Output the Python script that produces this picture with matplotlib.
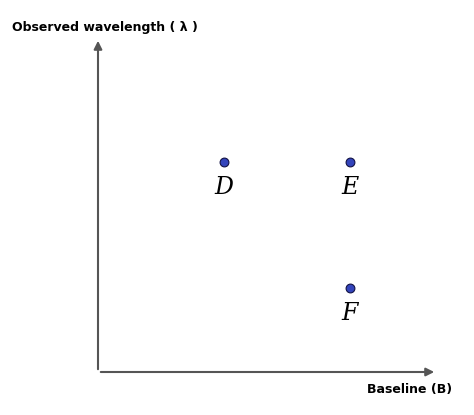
import matplotlib
matplotlib.use("Agg")
import matplotlib.pyplot as plt

labels = ["D", "E", "F"]
baseline = [1.0, 2.0, 2.0]
wavelength = [2.5, 2.5, 1.0]

W, H = 474, 415
ox, oy, ux, uy = 98, 372, 126, 84
fig = plt.figure(figsize=(W/100, H/100), dpi=100)
ax = fig.add_axes([0, 0, 1, 1])
ax.set_xlim(-ox/ux, (W-ox)/ux)
ax.set_ylim(-(H-oy)/uy, oy/uy)
ax.axis("off")

xend = (437-ox)/ux
yend = (oy-38)/uy
ax.annotate("", xy=(xend, 0), xytext=(0, 0),
            arrowprops=dict(arrowstyle="-|>", color="#555555", lw=1.5, mutation_scale=12))
ax.annotate("", xy=(0, yend), xytext=(0, 0),
            arrowprops=dict(arrowstyle="-|>", color="#555555", lw=1.5, mutation_scale=12))

ax.scatter(baseline, wavelength, s=40, color="#3344bb", edgecolor="#111144", linewidth=0.8, zorder=3)
for l, x, y in zip(labels, baseline, wavelength):
    ax.text(x, y - 0.3, l, ha="center", va="center", fontsize=17, style="italic", family="DejaVu Serif")

ax.text(-ox/ux + 12/ux, (oy-27)/uy, "Observed wavelength ( λ )", fontsize=9, fontweight="bold", va="center", ha="left")
ax.text((452-ox)/ux, -(389-oy)/uy, "Baseline (B)", fontsize=9, fontweight="bold", va="center", ha="right")

fig.savefig("out.png", dpi=100)
